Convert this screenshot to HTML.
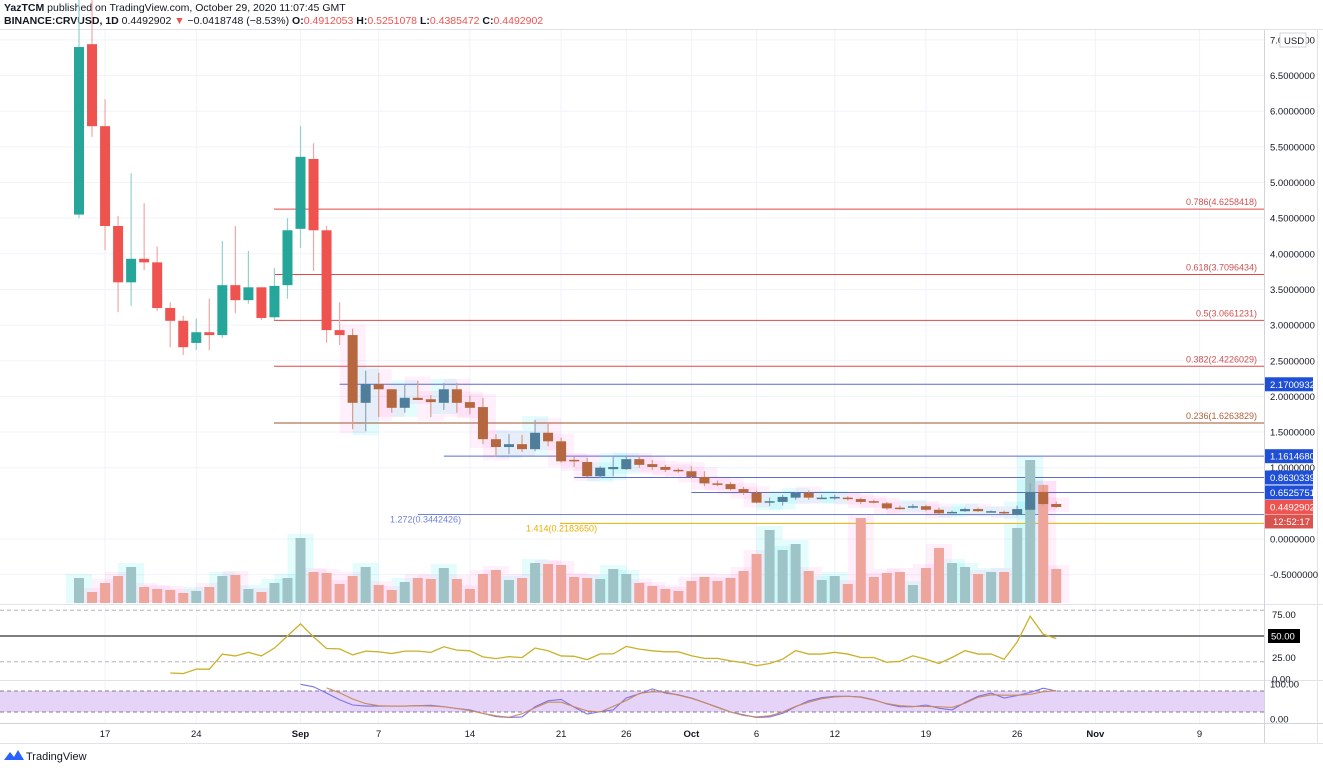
<!DOCTYPE html>
<html><head><meta charset="utf-8"><style>
html,body{margin:0;padding:0;background:#fff;}
body{width:1323px;height:768px;overflow:hidden;font-family:"Liberation Sans",sans-serif;}
svg{display:block}
</style></head><body>
<svg id="chart" width="1323" height="768" viewBox="0 0 1323 768" xmlns="http://www.w3.org/2000/svg" font-family="Liberation Sans, sans-serif">
<rect x="0" y="0" width="1323" height="768" fill="#fff"/>
<text x="4" y="11" font-size="10.5" fill="#131722"><tspan font-weight="bold">YazTCM</tspan> published on TradingView.com, October 29, 2020 11:07:45 GMT</text>
<text x="4" y="24" font-size="10.5" fill="#131722"><tspan font-weight="bold">BINANCE:CRVUSD, 1D</tspan> 0.4492902 <tspan fill="#ef5350">▼</tspan> −0.0418748 (−8.53%) <tspan font-weight="bold">O:</tspan><tspan fill="#ef5350">0.4912053</tspan> <tspan font-weight="bold">H:</tspan><tspan fill="#ef5350">0.5251078</tspan> <tspan font-weight="bold">L:</tspan><tspan fill="#ef5350">0.4385472</tspan> <tspan font-weight="bold">C:</tspan><tspan fill="#ef5350">0.4492902</tspan></text>
<line x1="0" y1="29.5" x2="1323" y2="29.5" stroke="#e0e3eb"/>
<g id="grid"></g>
<g id="overlays"></g>
<g id="fibs"></g>
<g id="volume"></g>
<g id="candles"></g>
<g id="rsi"></g>
<g id="stoch"></g>
<g id="axes"></g>
<g id="tags"></g>
<g>
<path d="M4 760 L10 752 L14 757 L18 750 L24 760 Z" fill="#2962ff"/>
<text x="26" y="760" font-size="11" fill="#131722">TradingView</text>
</g>
</svg>
<script>
// ---------- DATA ----------
const opens  = [4.55,6.94,5.79,4.39,3.60,3.93,3.88,3.24,3.06,2.75,2.90,2.86,3.56,3.35,3.53,3.11,3.56,4.35,5.33,4.33,2.93,2.86,1.91,2.17,2.10,1.84,1.98,1.96,1.91,2.10,1.92,1.85,1.40,1.29,1.33,1.26,1.49,1.37,1.11,1.08,0.88,0.98,0.98,1.12,1.05,1.01,0.97,0.95,0.87,0.78,0.77,0.70,0.65,0.51,0.52,0.58,0.65,0.58,0.57,0.58,0.56,0.53,0.50,0.44,0.45,0.46,0.41,0.38,0.39,0.42,0.39,0.38,0.34,0.41,0.66,0.4912];
const highs  = [7.6,7.6,6.17,4.53,5.13,4.71,4.10,3.32,3.13,3.09,3.37,4.18,4.39,4.04,3.53,3.80,4.50,5.79,5.55,4.39,3.32,2.95,2.36,2.33,2.10,2.17,2.22,2.02,2.19,2.19,2.01,1.98,1.47,1.47,1.46,1.67,1.64,1.42,1.15,1.14,1.02,1.15,1.15,1.15,1.11,1.04,0.99,1.02,0.95,0.82,0.80,0.73,0.68,0.58,0.62,0.66,0.68,0.62,0.62,0.60,0.58,0.55,0.52,0.47,0.49,0.48,0.44,0.40,0.44,0.44,0.40,0.40,0.47,0.78,0.76,0.5251];
const lows   = [4.5,5.64,4.05,3.18,3.27,3.77,3.20,2.69,2.58,2.65,2.65,2.82,3.17,3.30,3.07,3.07,3.37,4.08,3.76,2.75,2.72,1.54,1.51,1.71,1.77,1.77,1.95,1.71,1.81,1.77,1.75,1.33,1.16,1.19,1.22,1.23,1.30,1.07,1.01,0.87,0.86,0.88,0.97,1.00,0.97,0.94,0.93,0.85,0.74,0.74,0.68,0.62,0.50,0.46,0.47,0.55,0.55,0.56,0.55,0.54,0.49,0.50,0.41,0.41,0.43,0.39,0.35,0.36,0.38,0.38,0.37,0.35,0.33,0.40,0.46,0.4385];
const closes = [6.90,5.79,4.39,3.60,3.93,3.88,3.24,3.06,2.69,2.90,2.86,3.56,3.35,3.53,3.10,3.55,4.33,5.36,4.33,2.93,2.86,1.91,2.17,2.10,1.84,1.98,1.95,1.92,2.10,1.91,1.84,1.40,1.29,1.33,1.26,1.49,1.37,1.09,1.09,0.88,1.00,1.01,1.12,1.04,1.01,0.97,0.95,0.87,0.78,0.77,0.70,0.65,0.51,0.53,0.59,0.65,0.58,0.58,0.59,0.56,0.52,0.52,0.43,0.43,0.46,0.41,0.36,0.38,0.42,0.39,0.39,0.36,0.42,0.66,0.49,0.4493];
const volumes = [25,11,20,27,36,16,14,13,10,12,16,27,28,14,11,20,25,65,31,30,19,27,36,18,13,21,25,24,35,24,14,29,33,23,25,40,39,38,26,25,24,34,29,20,17,14,12,22,26,22,25,32,49,73,53,59,32,23,27,19,85,26,30,31,18,35,55,40,36,29,31,31,75,143,118,34];
const rsiStart = 7;
const rsiValues = [7,6.3,11.4,11.4,28.8,26.8,31,26.8,36,50,64,49,35.5,35,28,32.4,31.6,29.6,32.4,32.4,31,37.5,33.6,32.8,25.7,23.7,26,24.9,36,32.8,26.8,26.4,22.5,29.2,29.2,37.9,34.7,32.8,31.6,31.6,27,24,24,21,19,15.5,18,23,33,29,29,31,29,25,25,19.5,20.5,27,23,18,25,33,29,29,23,43,73,52,47];
const stochKStart = 17;
const stochK = [99,92,74,55,40,37,37,37,37,38,39,35,30,26,16,7,4.5,6,35,52,56,34,14,21,26,60,72,86,74,69,60,47,34,20,12,4.5,6,16,35,52,61,65,65,63,55,43,35,35,40,31,26,47,65,74,60,67,76,88,80];
const stochDStart = 19;
const stochD = [89,75,57,44,38,37,37,38,37,35,30,24,16,9,5,15,32,48,48,35,23,20,36,53,73,78,77,68,59,47,33,20,10,6,9,20,36,48,58,63,65,62,54,44,38,36,36,35,33,45,62,69,68,68,70,78,81];
const priceTicks = [7.0,6.5,6.0,5.5,5.0,4.5,4.0,3.5,3.0,2.5,2.0,1.5,1.0,0.0,-0.5];
const timeLabels = ["17","24","Sep","7","14","21","26","Oct","6","12","19","26","Nov","9"];
const timeIdx = [2,9,17,23,30,37,42,47,52,58,65,72,78,86];
const fibLevels = ["0.786","0.618","0.5","0.382","0.236"];
const fibPrices = [4.6258418,3.7096434,3.0661231,2.4226029,1.6263829];
const levelPrices = [2.1700932,1.1614680,0.8630339,0.6525751];
const levelStartIdx = [20,28,38,47];
const extLabels = ["1.272","1.414"];
const extPrices = [0.3442426,0.2183650];
const lastPrice = 0.4492902;

// ---------- SCALES ----------
const NS="http://www.w3.org/2000/svg";
const X = i => 79 + 13.03*i;
const Y = p => 539 - 71.3*p;
const VY = v => 603 - v;
const RY = v => 679 - 0.86*v;
const SY = v => 719 - 0.35*v;
const RIGHT = 1264;
function mk(tag, attrs, parent, text){
  const e=document.createElementNS(NS,tag);
  for(const k in attrs) e.setAttribute(k,attrs[k]);
  if(text!==undefined) e.textContent=text;
  document.getElementById(parent).appendChild(e);
  return e;
}

// grid
timeIdx.forEach(i=>{ if(X(i)<RIGHT) mk('line',{x1:X(i),x2:X(i),y1:30,y2:723,stroke:'#f0f3fa'},'grid'); });
priceTicks.forEach(p=>{ mk('line',{x1:0,x2:RIGHT,y1:Y(p),y2:Y(p),stroke:'#f0f3fa'},'grid'); });

// overlays behind candles (pattern highlight)
for(let i=0;i<opens.length;i++){
  const up = closes[i]>=opens[i];
  const fill = up ? 'rgba(0,230,240,0.10)' : 'rgba(255,60,200,0.08)';
  if(i>=21){
    const r=mk('rect',{x:X(i)-13,y:Y(highs[i])-4,width:26,height:Y(lows[i])-Y(highs[i])+8,fill:fill},'overlays');
    
    
  }
  const rv=mk('rect',{x:X(i)-13,y:VY(volumes[i])-4,width:26,height:volumes[i]+4,fill:fill},'overlays');
  
  
}

// fib retracement lines
const fibCol = ['#e04848','#e04848','#e04848','#e04848','#a0522d'];
fibPrices.forEach((p,k)=>{
  const l=mk('line',{x1:274,x2:RIGHT,y1:Y(p),y2:Y(p),stroke:fibCol[k],'stroke-width':1},'fibs');
  
  
  const t=mk('text',{x:1257,y:Y(p)-4,'font-size':9,'text-anchor':'end',fill:k===4?'#b0603a':'#d05050'},'fibs',fibLevels[k]+'('+p.toFixed(7)+')');
  
  
});
levelPrices.forEach((p,k)=>{
  const l=mk('line',{x1:X(levelStartIdx[k]),x2:RIGHT,y1:Y(p),y2:Y(p),stroke:'#5c6bd1','stroke-width':1},'fibs');
  
  
});
const extCol=['#6f7fdc','#e8b000'];
const extStart=[418,560];
const extLabX=[390,526];
extPrices.forEach((p,k)=>{
  const l=mk('line',{x1:extStart[k],x2:RIGHT,y1:Y(p),y2:Y(p),stroke:extCol[k],'stroke-width':1},'fibs');
  
  
  const t=mk('text',{x:extLabX[k],y:Y(p)+8,'font-size':9,fill:extCol[k]},'fibs',extLabels[k]+'('+p.toFixed(7)+')');
  
  
});

// volume
volumes.forEach((v,i)=>{
  const up=closes[i]>=opens[i];
  const r=mk('rect',{x:X(i)-5,y:VY(v),width:10,height:v,fill:up?'#9fc4c8':'#eea59c'},'volume');
  
  
});

// candles
for(let i=0;i<opens.length;i++){
  const up=closes[i]>=opens[i];
  let body = up?'#26a69a':'#ef5350';
  let wick = up?'#93d2ca':'#f2a7a6';
  if(i>=21){ body = up?'#4f7e9a':'#b5673f'; wick = up?'#8fa8b8':'#d4a08a'; }
  const w=mk('line',{x1:X(i),x2:X(i),y1:Y(highs[i]),y2:Y(lows[i]),stroke:wick,'stroke-width':1.2},'candles');
  
  
  const top=Y(Math.max(opens[i],closes[i])), bot=Y(Math.min(opens[i],closes[i]));
  const b=mk('rect',{x:X(i)-5,y:top,width:10,height:Math.max(1.5,bot-top),fill:body},'candles');
  
  
}

// pane separators
mk('line',{x1:0,x2:1323,y1:604.5,y2:604.5,stroke:'#e0e3eb'},'axes');
mk('line',{x1:0,x2:1323,y1:680.5,y2:680.5,stroke:'#e0e3eb'},'axes');

// RSI pane
mk('line',{x1:0,x2:RIGHT,y1:RY(80),y2:RY(80),stroke:'#b2b5be','stroke-dasharray':'4,3'},'rsi');
mk('line',{x1:0,x2:RIGHT,y1:RY(20),y2:RY(20),stroke:'#b2b5be','stroke-dasharray':'4,3'},'rsi');
const mid=mk('line',{x1:0,x2:RIGHT,y1:RY(50),y2:RY(50),stroke:'#555','stroke-width':1.5},'rsi');


const rsiPath=mk('polyline',{points:rsiValues.map((v,k)=>X(rsiStart+k)+','+RY(v)).join(' '),fill:'none',stroke:'#cbb12a','stroke-width':1.3},'rsi');



// Stoch RSI pane
const band=mk('rect',{x:0,y:SY(80),width:RIGHT,height:SY(20)-SY(80),fill:'#e6d3f8'},'stoch');


mk('line',{x1:0,x2:RIGHT,y1:SY(80),y2:SY(80),stroke:'#8a7a9a','stroke-dasharray':'4,3'},'stoch');
mk('line',{x1:0,x2:RIGHT,y1:SY(20),y2:SY(20),stroke:'#8a7a9a','stroke-dasharray':'4,3'},'stoch');
const kp=mk('polyline',{points:stochK.map((v,k)=>X(stochKStart+k)+','+SY(v)).join(' '),fill:'none',stroke:'#7b74ea','stroke-width':1.1},'stoch');


const dp=mk('polyline',{points:stochD.map((v,k)=>X(stochDStart+k)+','+SY(v)).join(' '),fill:'none',stroke:'#c98a5a','stroke-width':1.1},'stoch');



// axes
mk('line',{x1:RIGHT+0.5,x2:RIGHT+0.5,y1:30,y2:743,stroke:'#d1d4dc'},'axes');
mk('line',{x1:1317.5,x2:1317.5,y1:30,y2:743,stroke:'#e0e3eb'},'axes');
mk('line',{x1:0,x2:1323,y1:723.5,y2:723.5,stroke:'#d1d4dc'},'axes');
mk('line',{x1:0,x2:1323,y1:743.5,y2:743.5,stroke:'#e0e3eb'},'axes');
priceTicks.forEach(p=>{
  const t=mk('text',{x:1270,y:Y(p)+3.5,'font-size':9.5,fill:'#131722'},'axes',p.toFixed(7));
  
  
});
const usd=mk('rect',{x:1280,y:33,width:26,height:14,fill:'#fff',stroke:'#d1d4dc'},'axes');


mk('text',{x:1284,y:44,'font-size':9.5,fill:'#131722'},'axes','USD');
timeLabels.forEach((s,k)=>{
  const bold=(s==='Sep'||s==='Oct'||s==='Nov');
  const t=mk('text',{x:X(timeIdx[k]),y:737,'font-size':9.5,'text-anchor':'middle',fill:'#131722','font-weight':bold?'bold':'normal'},'axes',s);
  
  
});
[[75,'75.00'],[25,'25.00'],[0,'0.00']].forEach(a=>{
  const t=mk('text',{x:1272,y:RY(a[0])+3.5,'font-size':9.5,fill:'#131722'},'axes',a[1]);
  
  
});
[[100,'100.00'],[0,'0.00']].forEach(a=>{
  const t=mk('text',{x:1270,y:SY(a[0])+3.5,'font-size':9.5,fill:'#131722'},'axes',a[1]);
  
  
});

// price tags
function tag(p,label,bg,name){
  const y=Y(p);
  const r=mk('rect',{x:RIGHT+1,y:y-7,width:48,height:14,fill:bg},'tags');
  
  
  mk('text',{x:RIGHT+6,y:y+3.5,'font-size':9.5,fill:'#fff'},'tags',label);
}
levelPrices.forEach(p=>tag(p,p.toFixed(7),'#1e4fd6','level-price-tag'));
tag(lastPrice,lastPrice.toFixed(7),'#ef5350','last-price-tag');
const ct=mk('rect',{x:RIGHT+1,y:Y(lastPrice)+7.5,width:48,height:14,fill:'#d9534f'},'tags');


mk('text',{x:RIGHT+9,y:Y(lastPrice)+18,'font-size':9.5,fill:'#fff'},'tags','12:52:17');
const rt=mk('rect',{x:RIGHT+4,y:RY(50)-7,width:32,height:14,fill:'#000'},'tags');


mk('text',{x:RIGHT+7,y:RY(50)+3.5,'font-size':9.5,fill:'#fff'},'tags','50.00');
</script>
</body></html>
